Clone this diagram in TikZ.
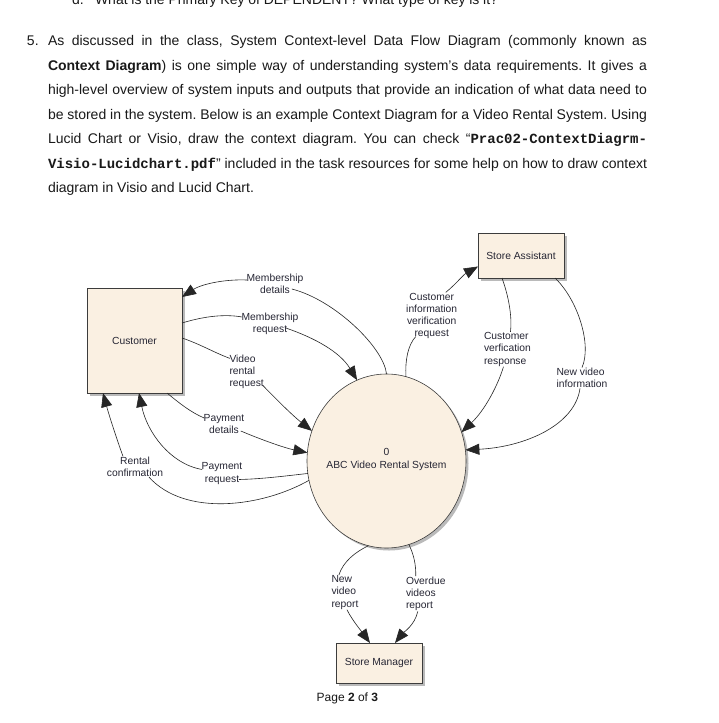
\documentclass[tikz,border=0pt]{standalone}
\usepackage{fontspec}
\setmainfont{Liberation Sans}
\newfontfamily\monof{Liberation Mono}
\usetikzlibrary{shapes.geometric,arrows.meta,shadows,calc}
\definecolor{boxfill}{RGB}{250,240,226}
\definecolor{edgec}{RGB}{60,60,60}
\definecolor{lblc}{RGB}{38,38,52}
\definecolor{bodyc}{RGB}{25,25,25}
\frenchspacing
\begin{document}
\begin{tikzpicture}[x=1pt,y=-1pt,
  entity/.style={draw=edgec,line width=0.6pt,fill=boxfill,rectangle,inner sep=0pt,outer sep=0pt,
    font=\fontsize{10.3}{12.3}\selectfont,text=lblc,
    drop shadow={shadow xshift=2.5pt,shadow yshift=-2.5pt,fill=black!45,opacity=0.6}},
  proc/.style={draw=edgec,line width=0.6pt,fill=boxfill,ellipse,inner sep=0pt,outer sep=0pt,
    minimum width=159pt,minimum height=174pt,
    drop shadow={shadow xshift=2.5pt,shadow yshift=-2.5pt,fill=black!45,opacity=0.6}},
  lbl/.style={font=\fontsize{10.3}{12.3}\selectfont,text=lblc,inner sep=0.5pt,outer sep=0pt},
  flow/.style={line width=0.6pt,draw=black!85},
  arr/.style={flow,-{Triangle[length=14pt,width=11pt]}},
  body/.style={anchor=base west,inner sep=0pt,outer sep=0pt,text=bodyc,font=\fontsize{14}{17}\selectfont}
]
\useasboundingbox (0,0) rectangle (718,723);
\fill[white] (0,0) rectangle (718,723);
\clip (0,0) rectangle (718,723);

% ---- text above the diagram ----
\node[body] (qd) at (72,4.5) {d.};
\node[body] (qdt) at (95,4.5) {\makebox[403pt][s]{What is the Primary Key of DEPENDENT? What type of key is it?}};
\node[body] (q5) at (27,45.5) {5.};
\node[body] (l1) at (48,45.5) {\makebox[599pt][s]{As discussed in the class, System Context-level Data Flow Diagram (commonly known as}};
\node[body] (l2) at (48,70) {\makebox[599pt][s]{\textbf{Context Diagram}) is one simple way of understanding system’s data requirements. It gives a}};
\node[body] (l3) at (48,94.5) {\makebox[599pt][s]{high-level overview of system inputs and outputs that provide an indication of what data need to}};
\node[body] (l4) at (48,119) {\makebox[599pt][s]{be stored in the system. Below is an example Context Diagram for a Video Rental System. Using}};
\node[body] (l5) at (48,143.5) {\makebox[599pt][s]{Lucid Chart or Visio, draw the context diagram. You can check “{\monof\bfseries Prac02-ContextDiagrm-}}};
\node[body] (l6) at (48,168) {\makebox[599pt][s]{{\monof\bfseries Visio-Lucidchart.pdf}” included in the task resources for some help on how to draw context}};
\node[body] (l7) at (48,192.5) {diagram in Visio and Lucid Chart.};

% ---- entities and process ----
\node[entity,minimum width=95pt,minimum height=105pt] (cust) at (134.5,340.5) {Customer};
\node[entity,minimum width=86pt,minimum height=45pt] (sa) at (521,255.5) {Store Assistant};
\node[entity,minimum width=86pt,minimum height=40pt] (sm) at (379,663) {Store Manager};
\node[proc] (ell) at (386.5,461) {};
\node[lbl,align=center,font=\fontsize{10.3}{13.7}\selectfont] (ellt) at (386.5,459.5) {0\\ABC Video Rental System};

% ---- flow labels ----
\node[lbl,align=center] (lmd) at (275,284) {Membership\\details};
\node[lbl,align=center] (lmr) at (270,324) {Membership\\request};
\node[lbl,align=left,anchor=west] (lvr) at (229,372) {Video\\rental\\request};
\node[lbl,align=center] (lpd) at (224,424) {Payment\\details};
\node[lbl,align=center] (lpr) at (222,473.5) {Payment\\request};
\node[lbl,align=center] (lrc) at (135,466.7) {Rental\\confirmation};
\node[lbl,align=center] (lciv) at (431.7,316) {Customer\\information\\verification\\request};
\node[lbl,align=left,anchor=west] (lcvr) at (483.5,349.3) {Customer\\verfication\\response};
\node[lbl,align=left,anchor=west] (lnvi) at (556,378) {New video\\information};
\node[lbl,align=left,anchor=west] (lnvr) at (331,592.3) {New\\video\\report};
\node[lbl,align=left,anchor=west] (lovr) at (405.5,593.8) {Overdue\\videos\\report};

% ---- flows ----
% Membership details
\draw[flow] (ell.90) .. controls (384,348) and (335,300) .. ($(lmd.east)+(-12,5)$);
\draw[arr] ($(lmd.west)+(1,-4)$) .. controls (222,279) and (200,285) .. ($(cust.north east)+(0,9)$);
% Membership request
\draw[flow] ($(cust.north east)+(0,35)$) .. controls (205,316) and (225,314) .. ($(lmr.west)+(1,-7)$);
\draw[arr] ($(lmr.east)+(-13,4)$) .. controls (315,338) and (340,352) .. (ell.110);
% Video rental request
\draw[flow] ($(cust.north east)+(0,50)$) .. controls (200,344) and (215,353) .. ($(lvr.north west)+(1,4)$);
\draw[arr] ($(lvr.south west)+(34,-4)$) .. controls (275,398) and (292,415) .. (ell.158);
% Payment details
\draw[flow] ($(cust.south east)+(-15,0)$) .. controls (178,402) and (190,412) .. ($(lpd.west)+(1,-6)$);
\draw[arr] ($(lpd.east)+(-4,7)$) .. controls (262,440) and (285,448) .. (ell.174);
% Payment request
\draw[flow] (ell.189) .. controls (285,476) and (262,479) .. ($(lpr.east)+(-4,6)$);
\draw[arr] ($(lpr.west)+(1,-4)$) .. controls (170,464) and (147,432) .. ($(cust.south)+(4.5,0)$);
% Rental confirmation
\draw[flow] (ell.194) .. controls (262,507) and (185,517) .. ($(lrc.south)+(14,0)$);
\draw[arr] ($(lrc.north)+(-12,0)$) .. controls (117,440) and (109,415) .. ($(cust.south west)+(16,0)$);
% Customer information verification request
\draw[flow] (ell.77) .. controls (405,360) and (408,345) .. ($(lciv.south)+(-16,-3)$);
\draw[arr] ($(lciv.north)+(14,0)$) .. controls (455,285) and (463,275) .. ($(sa.west)+(0,11)$);
% Customer verification response
\draw[flow] ($(sa.south)+(-19,0)$) .. controls (510,300) and (512,320) .. ($(lcvr.north)+(3,0)$);
\draw[arr] ($(lcvr.south)+(-4,0)$) .. controls (498,385) and (485,410) .. (ell.21);
% New video information
\draw[flow] ($(sa.south east)+(-9,0)$) .. controls (578,300) and (592,345) .. (lnvi.north);
\draw[arr] ($(lnvi.south)+(-2,0)$) .. controls (575,425) and (525,447) .. (ell.8);
% New video report
\draw[flow] (ell.258) .. controls (355,552) and (343,562) .. ($(lnvr.north)+(-6,0)$);
\draw[arr] ($(lnvr.south)+(2,0)$) .. controls (352,620) and (362,632) .. ($(sm.north)+(-9,0)$);
% Overdue videos report
\draw[flow] (ell.285) .. controls (414,555) and (416,565) .. ($(lovr.north)+(-10,0)$);
\draw[arr] ($(lovr.south)+(-8,0)$) .. controls (415,625) and (403,633) .. ($(sm.north)+(16,0)$);

% ---- footer ----
\node[body,font=\fontsize{12}{14}\selectfont] (pg) at (316.7,701.7) {Page \textbf{2} of \textbf{3}};
\end{tikzpicture}
\end{document}
